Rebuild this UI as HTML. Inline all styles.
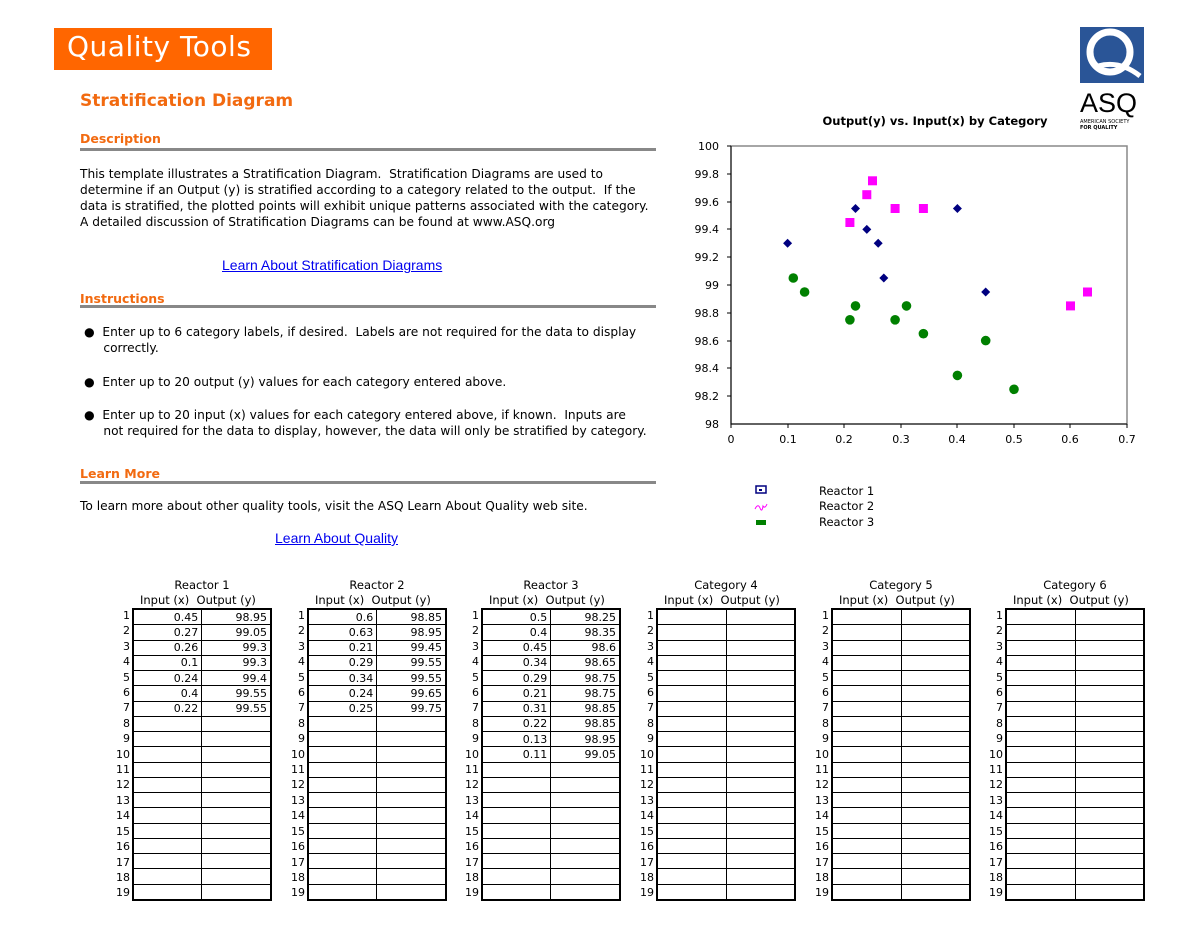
<!DOCTYPE html>
<html><head><meta charset="utf-8"><style>
body{margin:0;width:1200px;height:927px;background:#fff;position:relative;font-family:"DejaVu Sans","Liberation Sans",sans-serif;overflow:hidden}
.a{position:absolute;white-space:nowrap}
.body{font-size:12.2px;color:#000;line-height:16px}
.h{font-size:12.5px;font-weight:bold;color:#f26a10}
.rule{position:absolute;left:80px;width:576px;height:3px;background:#888}
a{color:#0000ee;text-decoration:underline;font-family:"Liberation Sans",sans-serif;font-size:14px}
table{border-collapse:collapse;position:absolute;font-size:11px}
td{border:1.5px solid #000;width:67px;height:13.4px;padding:0 3px 0 0;text-align:right;line-height:13px}
table{border:2.5px solid #000}
.num{position:absolute;font-size:11px;text-align:right;width:20px;line-height:15.4px}
.cap{position:absolute;font-size:11.5px;text-align:center;width:160px;line-height:15px}
</style></head><body>
<div class="a" style="left:54px;top:28px;width:218px;height:42px;background:#ff6600"></div>
<div class="a" style="left:67px;top:30px;font-family:'DejaVu Sans',sans-serif;font-size:28px;color:#fff;letter-spacing:0.5px">Quality Tools</div>
<div class="a" style="left:80px;top:91px;font-size:17px;font-weight:bold;color:#f26a10">Stratification Diagram</div>
<div class="a h" style="left:80px;top:131px">Description</div>
<div class="rule" style="top:148px"></div>
<div class="a body" style="left:80px;top:166px">This template illustrates a Stratification Diagram.&nbsp; Stratification Diagrams are used to<br>determine if an Output (y) is stratified according to a category related to the output.&nbsp; If the<br>data is stratified, the plotted points will exhibit unique patterns associated with the category.<br>A detailed discussion of Stratification Diagrams can be found at www.ASQ.org</div>
<a class="a" style="left:222px;top:257px">Learn About Stratification Diagrams</a>
<div class="a h" style="left:80px;top:291px">Instructions</div>
<div class="rule" style="top:305px"></div>
<div class="a body" style="left:84px;top:324px">●&nbsp; Enter up to 6 category labels, if desired.&nbsp; Labels are not required for the data to display<br>&nbsp;&nbsp;&nbsp;&nbsp; correctly.</div>
<div class="a body" style="left:84px;top:374px">●&nbsp; Enter up to 20 output (y) values for each category entered above.</div>
<div class="a body" style="left:84px;top:407px">●&nbsp; Enter up to 20 input (x) values for each category entered above, if known.&nbsp; Inputs are<br>&nbsp;&nbsp;&nbsp;&nbsp; not required for the data to display, however, the data will only be stratified by category.</div>
<div class="a h" style="left:80px;top:466px">Learn More</div>
<div class="rule" style="top:481px"></div>
<div class="a body" style="left:80px;top:498px">To learn more about other quality tools, visit the ASQ Learn About Quality web site.</div>
<a class="a" style="left:275px;top:530px">Learn About Quality</a>

<svg class="a" style="left:0;top:0" width="1200" height="560" font-family="DejaVu Sans,sans-serif">
<rect x="1080" y="27" width="64" height="56" fill="#2a5597"/>
<circle cx="1110" cy="52" r="20" fill="none" stroke="#fff" stroke-width="7"/>
<path d="M1098 66 Q1120 60 1140 76" stroke="#fff" stroke-width="5" fill="none"/>
<text x="1080" y="112" font-size="27" font-family="Liberation Sans,sans-serif">ASQ</text>
<text x="1080" y="123" font-size="5">AMERICAN SOCIETY</text>
<text x="1080" y="129" font-size="5" font-weight="bold">FOR QUALITY</text>
<text x="935" y="125" font-size="11.5" font-weight="bold" text-anchor="middle">Output(y) vs. Input(x) by Category</text>
<rect x="731" y="146" width="396" height="278" fill="#fff" stroke="#888" stroke-width="1.5"/>
<g stroke="#000"><line x1="731" y1="146" x2="731" y2="424"/><line x1="731" y1="424" x2="1127" y2="424"/>
<g stroke-width="1">
<line x1="727" y1="146" x2="731" y2="146"/><line x1="727" y1="174" x2="731" y2="174"/><line x1="727" y1="202" x2="731" y2="202"/><line x1="727" y1="229" x2="731" y2="229"/><line x1="727" y1="257" x2="731" y2="257"/><line x1="727" y1="285" x2="731" y2="285"/><line x1="727" y1="313" x2="731" y2="313"/><line x1="727" y1="341" x2="731" y2="341"/><line x1="727" y1="368" x2="731" y2="368"/><line x1="727" y1="396" x2="731" y2="396"/>
<line x1="731" y1="424" x2="731" y2="428"/><line x1="788" y1="424" x2="788" y2="428"/><line x1="844" y1="424" x2="844" y2="428"/><line x1="901" y1="424" x2="901" y2="428"/><line x1="957" y1="424" x2="957" y2="428"/><line x1="1014" y1="424" x2="1014" y2="428"/><line x1="1070" y1="424" x2="1070" y2="428"/><line x1="1127" y1="424" x2="1127" y2="428"/></g></g>
<g font-size="11" text-anchor="end">
<text x="719" y="150">100</text><text x="719" y="178">99.8</text><text x="719" y="206">99.6</text><text x="719" y="233">99.4</text><text x="719" y="261">99.2</text><text x="719" y="289">99</text><text x="719" y="317">98.8</text><text x="719" y="345">98.6</text><text x="719" y="372">98.4</text><text x="719" y="400">98.2</text><text x="719" y="428">98</text></g>
<g font-size="11" text-anchor="middle">
<text x="731" y="443">0</text><text x="788" y="443">0.1</text><text x="844" y="443">0.2</text><text x="901" y="443">0.3</text><text x="957" y="443">0.4</text><text x="1014" y="443">0.5</text><text x="1070" y="443">0.6</text><text x="1127" y="443">0.7</text></g>
<g fill="#000080">
<path d="M985.7 287.5l4.5 4.5-4.5 4.5-4.5-4.5z"/><path d="M883.8 273.5l4.5 4.5-4.5 4.5-4.5-4.5z"/><path d="M878.2 238.8l4.5 4.5-4.5 4.5-4.5-4.5z"/><path d="M787.6 238.8l4.5 4.5-4.5 4.5-4.5-4.5z"/><path d="M866.8 224.9l4.5 4.5-4.5 4.5-4.5-4.5z"/><path d="M957.4 204l4.5 4.5-4.5 4.5-4.5-4.5z"/><path d="M855.5 204l4.5 4.5-4.5 4.5-4.5-4.5z"/></g>
<g fill="#ff00ff">
<rect x="1066" y="301.4" width="9" height="9"/><rect x="1083" y="287.5" width="9" height="9"/><rect x="845.4" y="218" width="9" height="9"/><rect x="890.6" y="204" width="9" height="9"/><rect x="918.9" y="204" width="9" height="9"/><rect x="862.3" y="190.2" width="9" height="9"/><rect x="868" y="176.3" width="9" height="9"/></g>
<g fill="#008000">
<circle cx="1014" cy="389.3" r="4.8"/><circle cx="957.4" cy="375.4" r="4.8"/><circle cx="985.7" cy="340.6" r="4.8"/><circle cx="923.4" cy="333.7" r="4.8"/><circle cx="895.1" cy="319.8" r="4.8"/><circle cx="849.9" cy="319.8" r="4.8"/><circle cx="906.5" cy="305.9" r="4.8"/><circle cx="855.5" cy="305.9" r="4.8"/><circle cx="804.6" cy="292" r="4.8"/><circle cx="793.3" cy="278" r="4.8"/></g>
<rect x="756" y="486" width="10" height="7" fill="none" stroke="#000080" stroke-width="1.5"/><rect x="759" y="489" width="3" height="2" fill="#000080"/>
<path d="M755 509q3-6 5-1t3-2q2 3 4-2" stroke="#ff00ff" fill="none"/>
<rect x="756" y="520" width="10" height="5" fill="#008000"/>
<g font-size="11.5"><text x="819" y="495">Reactor 1</text><text x="819" y="510">Reactor 2</text><text x="819" y="526">Reactor 3</text></g>
</svg>

<div class="cap" style="left:122px;top:578px">Reactor 1</div><div class="cap" style="left:132px;top:593px;width:140px;text-align:left;padding-left:8px;box-sizing:border-box">Input (x)&nbsp; Output (y)</div>
<div class="cap" style="left:297px;top:578px">Reactor 2</div><div class="cap" style="left:307px;top:593px;width:140px;text-align:left;padding-left:8px;box-sizing:border-box">Input (x)&nbsp; Output (y)</div>
<div class="cap" style="left:471px;top:578px">Reactor 3</div><div class="cap" style="left:481px;top:593px;width:140px;text-align:left;padding-left:8px;box-sizing:border-box">Input (x)&nbsp; Output (y)</div>
<div class="cap" style="left:646px;top:578px">Category 4</div><div class="cap" style="left:656px;top:593px;width:140px;text-align:left;padding-left:8px;box-sizing:border-box">Input (x)&nbsp; Output (y)</div>
<div class="cap" style="left:821px;top:578px">Category 5</div><div class="cap" style="left:831px;top:593px;width:140px;text-align:left;padding-left:8px;box-sizing:border-box">Input (x)&nbsp; Output (y)</div>
<div class="cap" style="left:995px;top:578px">Category 6</div><div class="cap" style="left:1005px;top:593px;width:140px;text-align:left;padding-left:8px;box-sizing:border-box">Input (x)&nbsp; Output (y)</div>

<div id="tables"></div>
<script>
var data=[
[["0.45","98.95"],["0.27","99.05"],["0.26","99.3"],["0.1","99.3"],["0.24","99.4"],["0.4","99.55"],["0.22","99.55"]],
[["0.6","98.85"],["0.63","98.95"],["0.21","99.45"],["0.29","99.55"],["0.34","99.55"],["0.24","99.65"],["0.25","99.75"]],
[["0.5","98.25"],["0.4","98.35"],["0.45","98.6"],["0.34","98.65"],["0.29","98.75"],["0.21","98.75"],["0.31","98.85"],["0.22","98.85"],["0.13","98.95"],["0.11","99.05"]],
[],[],[]];
var lefts=[132,307,481,656,831,1005],h="";
for(var t=0;t<6;t++){
 var L=lefts[t];
 h+='<div class="num" style="left:'+(L-22)+'px;top:608px">';
 for(var r=1;r<=19;r++)h+=r+'<br>';
 h+='</div><table style="left:'+L+'px;top:608px;width:140px;height:293px">';
 for(var r=0;r<19;r++){var d=data[t][r]||["",""];h+='<tr><td>'+d[0]+'</td><td>'+d[1]+'</td></tr>';}
 h+='</table>';
}
document.getElementById('tables').innerHTML=h;
</script>
</body></html>
